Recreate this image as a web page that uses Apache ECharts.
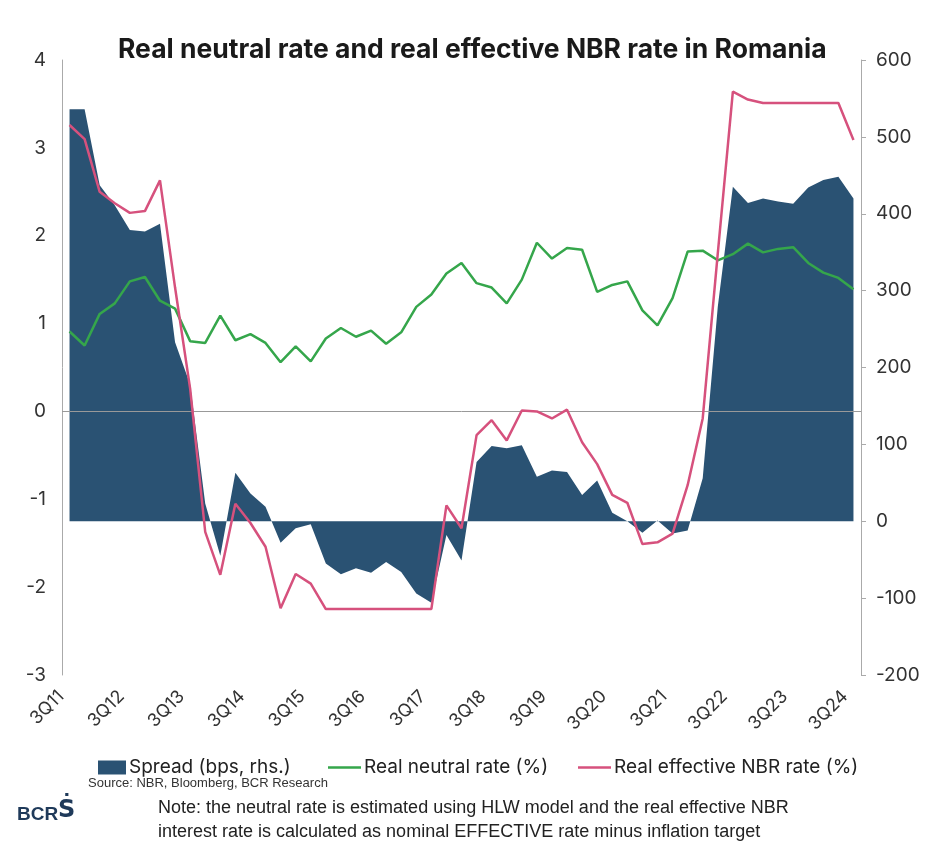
<!DOCTYPE html>
<html>
<head>
<meta charset="utf-8">
<script src="https://cdn.jsdelivr.net/npm/echarts@6/dist/echarts.min.js"></script>
<style>
  html, body { margin: 0; padding: 0; background: #fff; }
  #chart { width: 926px; height: 847px; }
</style>
</head>
<body>
<div id="chart"></div>
<script>
// quarters 3Q11 .. 3Q24
var quarters = [
  '3Q11','4Q11','1Q12','2Q12','3Q12','4Q12','1Q13','2Q13','3Q13','4Q13','1Q14','2Q14','3Q14','4Q14',
  '1Q15','2Q15','3Q15','4Q15','1Q16','2Q16','3Q16','4Q16','1Q17','2Q17','3Q17','4Q17','1Q18','2Q18',
  '3Q18','4Q18','1Q19','2Q19','3Q19','4Q19','1Q20','2Q20','3Q20','4Q20','1Q21','2Q21','3Q21','4Q21',
  '1Q22','2Q22','3Q22','4Q22','1Q23','2Q23','3Q23','4Q23','1Q24','2Q24','3Q24'
]

// spread, bps (right axis)
var spread = [
  536, 536, 437, 411, 379, 377, 387, 233, 178, 23, -45, 63, 36, 19, -28, -9, -4, -55,
  -69, -61, -67, -53, -66, -94, -106, -18, -51, 77, 98, 95, 99, 58, 66, 64, 34, 53,
  11, 0, -15, 1, -16, -12, 56, 279, 435, 414, 420, 416, 413, 434, 444, 448, 420
]

// real neutral rate, % (left axis)
var neutralRate = [
  0.91, 0.75, 1.11, 1.23, 1.48, 1.53, 1.26, 1.17, 0.80, 0.78, 1.09, 0.81, 0.88, 0.78,
  0.56, 0.74, 0.57, 0.83, 0.95, 0.85, 0.92, 0.77, 0.90, 1.19, 1.33, 1.57, 1.69, 1.46,
  1.41, 1.23, 1.50, 1.92, 1.74, 1.86, 1.84, 1.36, 1.44, 1.48, 1.15, 0.98, 1.29, 1.82,
  1.83, 1.72, 1.79, 1.91, 1.81, 1.85, 1.87, 1.69, 1.58, 1.52, 1.39
]

// real effective NBR rate, % (left axis)
var nbrRate = [
  3.26, 3.10, 2.50, 2.37, 2.26, 2.28, 2.63, 1.41, 0.26, -1.37, -1.86, -1.05, -1.27, -1.54,
  -2.24, -1.85, -1.96, -2.25, -2.25, -2.25, -2.25, -2.25, -2.25, -2.25, -2.25, -1.07, -1.33, -0.27,
  -0.10, -0.33, 0.01, 0.00, -0.08, 0.02, -0.35, -0.60, -0.95, -1.04, -1.51, -1.49, -1.39, -0.84,
  -0.08, 1.80, 3.64, 3.55, 3.51, 3.51, 3.51, 3.51, 3.51, 3.51, 3.09
]

var fontMain = 'Inter, "Liberation Sans", Arial, sans-serif'
// thin line icon for the legend (tiny corner dots keep the 33x14 box)
var lineIcon = 'path://M0,0h0.01v0.01h-0.01z M0,5.8h33v2.4h-33z M32.99,13.99h0.01v0.01h-0.01z'

function legendAt (left, name, icon, w) {
  return {
    left: left,
    top: 753,
    itemWidth: w,
    itemHeight: 14,
    itemGap: 4,
    textStyle: { fontFamily: fontMain, fontSize: 19, color: '#222', padding: [0, 0, 0, -2] },
    data: [{ name: name, icon: icon }]
  }
}

var chart = echarts.init(document.getElementById('chart'), null, { renderer: 'canvas' })

var option = {
  backgroundColor: '#fff',
  animation: false,
  title: {
    text: 'Real neutral rate and real effective NBR rate in Romania',
    left: 113,
    top: 32,
    textStyle: { fontFamily: fontMain, fontWeight: 'bold', fontSize: 26.5, color: '#1a1a1a' }
  },
  legend: [
    legendAt(93, 'Spread (bps, rhs.)', 'rect', 28),
    legendAt(323, 'Real neutral rate (%)', lineIcon, 33),
    legendAt(573, 'Real effective NBR rate (%)', lineIcon, 33)
  ],
  grid: { left: 62, right: 65, top: 60, bottom: 172, containLabel: false },
  xAxis: {
    type: 'category',
    data: quarters,
    boundaryGap: true,
    axisLine: { show: false },
    axisTick: { show: false },
    axisLabel: {
      interval: 3,
      rotate: 45,
      margin: 10,
      padding: [0, 12, 0, 0],
      fontFamily: fontMain,
      fontSize: 18,
      color: '#333'
    }
  },
  yAxis: [
    {
      type: 'value',
      min: -3, max: 4, interval: 1,
      axisLine: { show: true, lineStyle: { color: '#aaa' } },
      axisTick: { show: false },
      splitLine: { show: false },
      axisLabel: { fontFamily: fontMain, fontSize: 19, color: '#333', margin: 16 }
    },
    {
      type: 'value',
      min: -200, max: 600, interval: 100,
      axisLine: { show: true, lineStyle: { color: '#aaa' } },
      axisTick: { show: true, inside: false, length: 5, lineStyle: { color: '#aaa' } },
      splitLine: { show: false },
      axisLabel: { fontFamily: fontMain, fontSize: 19, color: '#333', margin: 15 }
    }
  ],
  series: [
    {
      name: 'Spread (bps, rhs.)',
      type: 'line',
      yAxisIndex: 1,
      data: spread,
      symbol: 'none',
      lineStyle: { width: 0 },
      itemStyle: { color: '#2a5273' },
      areaStyle: { color: '#2a5273', opacity: 1 },
      z: 1
    },
    {
      name: 'Real neutral rate (%)',
      type: 'line',
      yAxisIndex: 0,
      data: neutralRate,
      symbol: 'none',
      lineStyle: { width: 2.5, color: '#35a64b' },
      itemStyle: { color: '#35a64b' },
      z: 3,
      markLine: {
        silent: true,
        symbol: 'none',
        label: { show: false },
        lineStyle: { color: '#999', type: 'solid', width: 1 },
        data: [{ yAxis: 0 }],
        z: 2
      }
    },
    {
      name: 'Real effective NBR rate (%)',
      type: 'line',
      yAxisIndex: 0,
      data: nbrRate,
      symbol: 'none',
      lineStyle: { width: 2.5, color: '#d6517d' },
      itemStyle: { color: '#d6517d' },
      z: 4
    }
  ],
  graphic: [
    {
      type: 'text', left: 88, top: 777,
      style: { text: 'Source: NBR, Bloomberg, BCR Research', font: '13px "Liberation Sans", Arial, sans-serif', fill: '#333' }
    },
    {
      type: 'text', left: 158, top: 796,
      style: {
        text: 'Note: the neutral rate is estimated using HLW model and the real effective NBR\ninterest rate is calculated as nominal EFFECTIVE rate minus inflation target',
        font: '18px "Liberation Sans", Arial, sans-serif', fill: '#222', lineHeight: 24
      }
    },
    {
      type: 'text', left: 17, top: 805,
      style: { text: 'BCR', font: 'bold 19px "Liberation Sans", Arial, sans-serif', fill: '#1f3a5a' }
    },
    {
      type: 'text', left: 58, top: 799,
      style: { text: 'Ṡ', font: 'bold 24px "DejaVu Sans", sans-serif', fill: '#1f3a5a' }
    }
  ]
}

chart.setOption(option)
</script>
</body>
</html>
